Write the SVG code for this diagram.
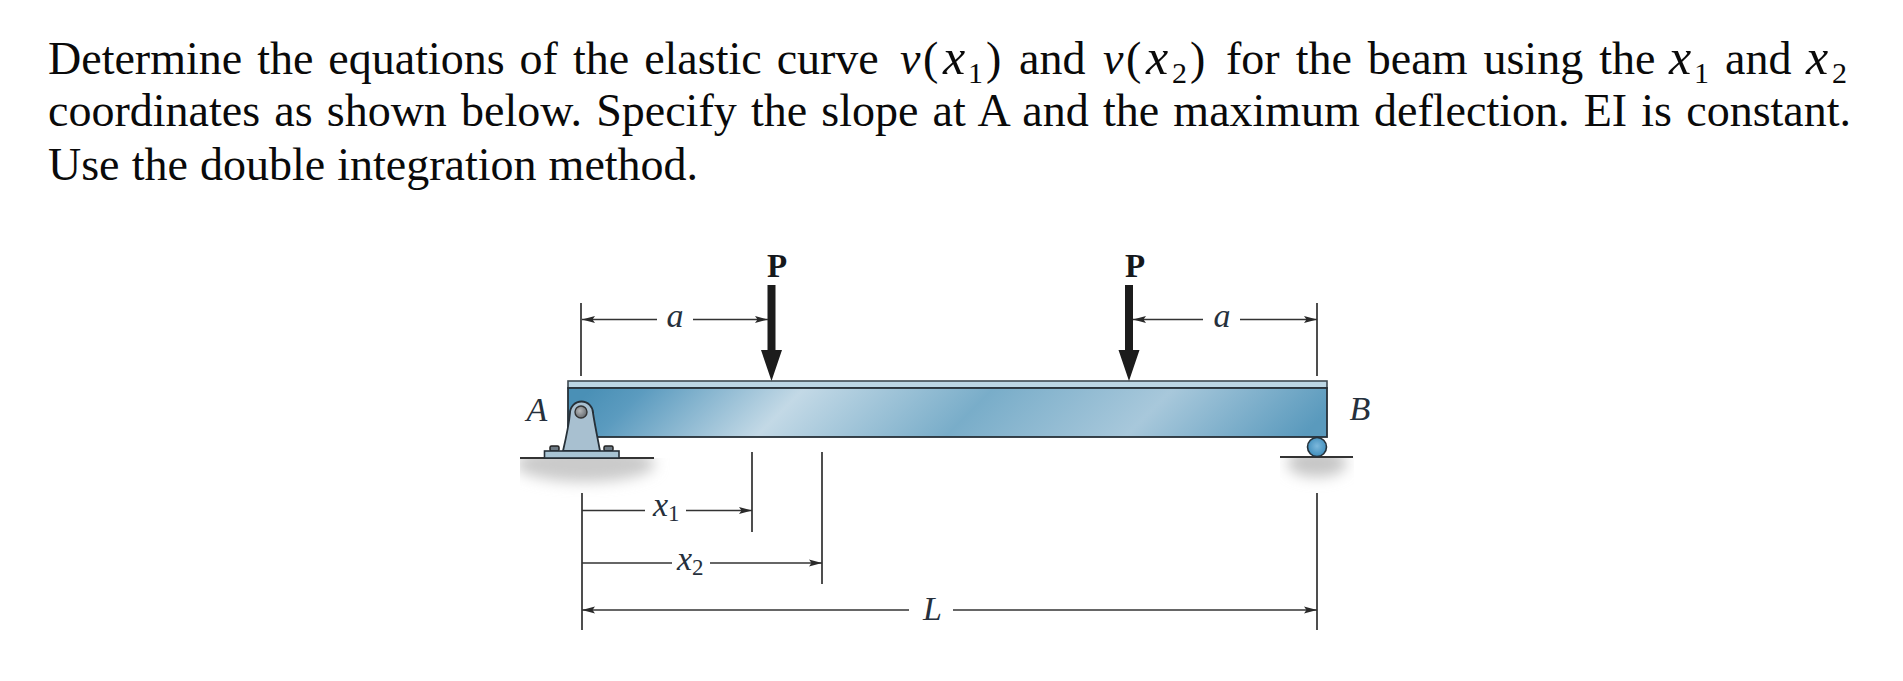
<svg xmlns="http://www.w3.org/2000/svg" width="1903" height="681" viewBox="0 0 1903 681">
<style>
text{font-family:"Liberation Serif","Times New Roman",serif;fill:#0a0a0a}
.q{font-size:46px}
.qi{font-style:italic}
.mx{font-size:50px;font-style:italic}
.sub{font-size:30px}
.lab{font-size:34px;font-style:italic;fill:#26303c}
.sm{font-size:23px;fill:#26303c}
.bold{font-size:33px;font-weight:bold;font-style:normal;fill:#15181c}
.dim{stroke:#333;stroke-width:1.6;fill:none}
.ext{stroke:#222;stroke-width:1.6;fill:none}
.edge{stroke:#333;stroke-width:2}
</style>
<defs>
<marker id="ah" markerUnits="userSpaceOnUse" markerWidth="14" markerHeight="8" refX="13" refY="4" orient="auto-start-reverse"><path d="M0 0.5L13 4L0 7.500L2.500 4Z" fill="#2a2a2a"/></marker>
<linearGradient id="bm" gradientUnits="userSpaceOnUse" x1="568" y1="0" x2="1327" y2="0" gradientTransform="translate(412 0) skewX(-45)">
<stop offset="0" stop-color="#4a90b6"/><stop offset="0.07" stop-color="#5b9bbf"/><stop offset="0.28" stop-color="#c3d9e6"/><stop offset="0.53" stop-color="#79adc9"/><stop offset="0.767" stop-color="#a8c8db"/><stop offset="1" stop-color="#5a9abd"/>
</linearGradient>
<radialGradient id="ball" cx="0.5" cy="0.45" r="0.55"><stop offset="0" stop-color="#7cb8dc"/><stop offset="1" stop-color="#3f8dbb"/></radialGradient>
<radialGradient id="pin" cx="0.4" cy="0.4" r="0.6"><stop offset="0" stop-color="#b5b8ba"/><stop offset="1" stop-color="#6a6f73"/></radialGradient>
<filter id="blur" x="-30%" y="-60%" width="160%" height="220%"><feGaussianBlur stdDeviation="7"/></filter>
<clipPath id="c1"><rect x="520" y="458" width="150" height="50"/></clipPath>
<clipPath id="c2"><rect x="1280" y="457" width="74" height="40"/></clipPath>
</defs>
<rect width="1903" height="681" fill="#fff"/>
<g id="problem-text">
<text class="q" y="74"><tspan x="48" style="word-spacing:3.500px">Determine the equations of the elastic curve</tspan> <tspan class="qi" x="900">v</tspan><tspan x="923">(</tspan><tspan class="mx" x="943">x</tspan><tspan class="sub" x="968" y="83">1</tspan><tspan x="986" y="74">)</tspan> <tspan x="1019">and</tspan> <tspan class="qi" x="1103">v</tspan><tspan x="1126">(</tspan><tspan class="mx" x="1146">x</tspan><tspan class="sub" x="1172" y="83">2</tspan><tspan x="1190" y="74">)</tspan> <tspan x="1226" style="word-spacing:4.500px">for the beam using the</tspan> <tspan class="mx" x="1669">x</tspan><tspan class="sub" x="1694" y="83">1</tspan> <tspan x="1725" y="74">and</tspan> <tspan class="mx" x="1806">x</tspan><tspan class="sub" x="1832" y="83">2</tspan></text>
<text class="q" x="48" y="126" style="word-spacing:2.700px">coordinates as shown below. Specify the slope at A and the maximum deflection. EI is constant.</text>
<text class="q" x="48" y="180" style="word-spacing:0.600px">Use the double integration method.</text>
</g>
<g id="ground-A">
<g clip-path="url(#c1)"><ellipse cx="585" cy="464" rx="70" ry="18" fill="#cbcbcb" filter="url(#blur)"/></g>
<path d="M520 458H654" class="edge"/>
</g>
<g id="ground-B">
<g clip-path="url(#c2)"><ellipse cx="1317" cy="463" rx="30" ry="14" fill="#c6c6c6" filter="url(#blur)"/></g>
<path d="M1280 457H1353" class="edge"/>
</g>
<g id="beam">
<rect x="568" y="381" width="759" height="7" fill="#bcd6e4" stroke="#3f4a52" stroke-width="1.6"/>
<rect x="568" y="388" width="759" height="49" fill="url(#bm)" stroke="#263038" stroke-width="1.8"/>
</g>
<g id="support-A">
<path d="M563 451C566 438 569 424 570 413A11.500 11.500 0 0 1 593 413C595 426 598 440 600 451Z" fill="#a8c0d0" stroke="#263038" stroke-width="1.8"/>
<circle cx="581" cy="412" r="6" fill="url(#pin)" stroke="#333" stroke-width="1.4"/>
<rect x="550" y="446" width="9" height="5" rx="1.500" fill="#6d7a84" stroke="#222" stroke-width="1.5"/>
<rect x="604" y="446" width="9" height="5" rx="1.500" fill="#6d7a84" stroke="#222" stroke-width="1.5"/>
<rect x="544.500" y="451" width="74.500" height="7" fill="#a8c4d4" stroke="#263038" stroke-width="1.6"/>
</g>
<g id="support-B">
<circle cx="1317" cy="447" r="9.500" fill="url(#ball)" stroke="#263038" stroke-width="1.6"/>
</g>
<g id="load-P1">
<path d="M767.500 285H775.500V350L782 350L771.500 381L761 350L767.500 350Z" fill="#1c1c1c"/>
<text class="bold" x="777" y="277" text-anchor="middle">P</text>
</g>
<g id="load-P2">
<path d="M1125 285H1133V350L1139.500 350L1129 381L1118.500 350L1125 350Z" fill="#1c1c1c"/>
<text class="bold" x="1135" y="277" text-anchor="middle">P</text>
</g>
<g id="connectors">
<path class="ext" d="M581 303V376"/><path class="ext" d="M1317 303V376"/>
<path class="ext" d="M582 493V630"/><path class="ext" d="M1317 493V630"/>
<path class="ext" d="M752 452V532"/><path class="ext" d="M822 452V584"/>
<path class="dim" d="M657 319.500H582" marker-end="url(#ah)"/>
<path class="dim" d="M693 319.500H768" marker-end="url(#ah)"/>
<path class="dim" d="M1203 319.500H1133" marker-end="url(#ah)"/>
<path class="dim" d="M1240 319.500H1317" marker-end="url(#ah)"/>
<path class="dim" d="M582 510.500H645"/>
<path class="dim" d="M686 510.500H752" marker-end="url(#ah)"/>
<path class="dim" d="M582 563H672"/>
<path class="dim" d="M710 563H822" marker-end="url(#ah)"/>
<path class="dim" d="M909 610H582" marker-end="url(#ah)"/>
<path class="dim" d="M953 610H1317" marker-end="url(#ah)"/>
</g>
<g id="labels">
<text class="lab" x="537" y="421" text-anchor="middle">A</text>
<text class="lab" x="1360" y="420" text-anchor="middle">B</text>
<text class="lab" x="675" y="327" text-anchor="middle">a</text>
<text class="lab" x="1222" y="327" text-anchor="middle">a</text>
<text class="lab" x="653" y="516">x<tspan class="sm" dy="5" style="font-style:normal">1</tspan></text>
<text class="lab" x="677" y="570">x<tspan class="sm" dy="5" style="font-style:normal">2</tspan></text>
<text class="lab" x="923" y="620">L</text>
</g>
</svg>
